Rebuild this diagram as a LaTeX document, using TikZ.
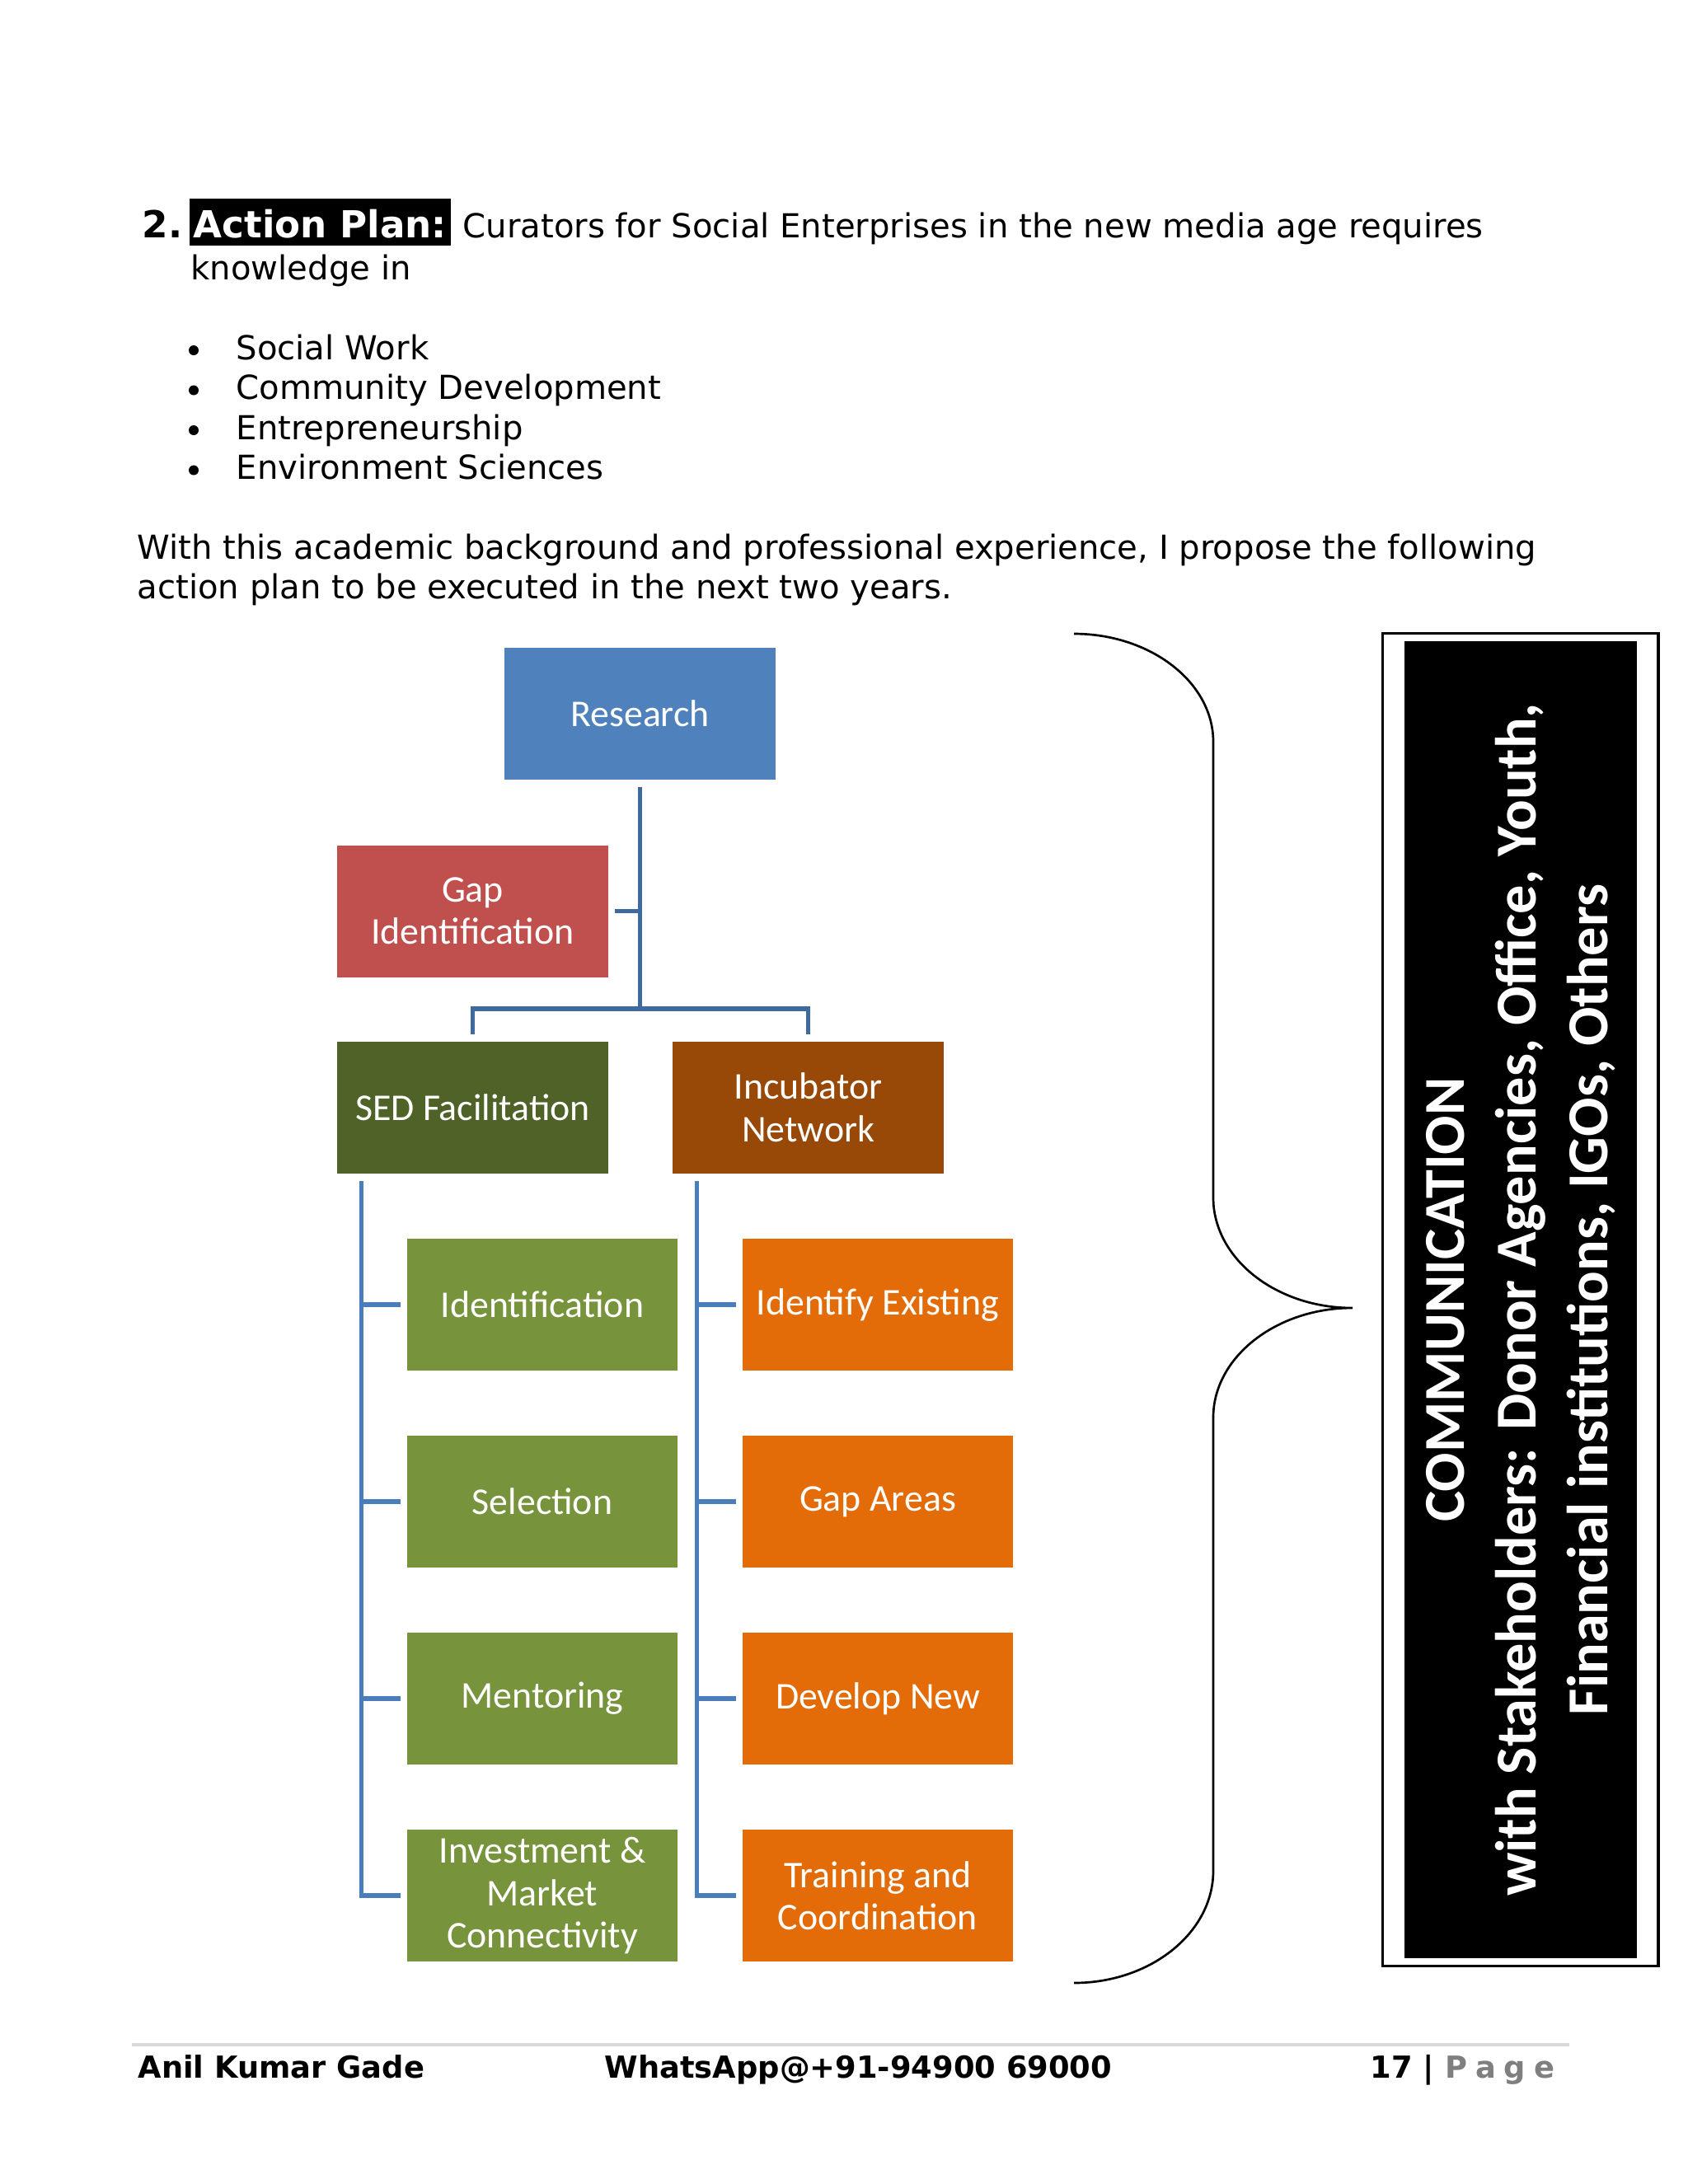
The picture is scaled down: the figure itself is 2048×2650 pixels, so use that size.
\documentclass[tikz,border=0pt]{standalone}
\usepackage{fontspec}
\setmainfont{DejaVu Sans}
\newfontfamily\carlito{Carlito}
\usetikzlibrary{positioning,calc}

\definecolor{resblue}{HTML}{4F81BD}
\definecolor{gapred}{HTML}{C0504D}
\definecolor{sedolive}{HTML}{4F6228}
\definecolor{incbrown}{HTML}{984807}
\definecolor{leafgreen}{HTML}{77933C}
\definecolor{leaforange}{HTML}{E36C09}
\definecolor{trunkblue}{HTML}{3E6A9E}
\definecolor{railblue}{HTML}{4A7EBB}
\definecolor{pagegray}{HTML}{7F7F7F}
\definecolor{rulegray}{HTML}{D9D9D9}

\tikzset{
  txt/.style={anchor=base west,inner sep=0pt},
  head/.style={font=\bfseries\fontsize{13.5}{16}\selectfont},
  foot/.style={font=\bfseries\fontsize{11}{13}\selectfont},
  box/.style={minimum width=98.3pt,minimum height=47.8pt,inner sep=1pt,align=center,text=white,font=\carlito\fontsize{13.7}{15.4}\selectfont},
  trunk/.style={draw=trunkblue,line width=1.6pt},
  rail/.style={draw=railblue,line width=1.6pt},
}

\begin{document}
\begin{tikzpicture}[x=0.29883pt,y=-0.29883pt,font=\fontsize{12}{14.6}\selectfont]
\useasboundingbox (0,0) rectangle (2048,2650);
\fill[white] (0,0) rectangle (2048,2650);

% heading and list
\node[txt,head] (num) at (172,288) {2.};
\node[head,anchor=base west,fill=black,text=white,inner xsep=1.5pt,inner ysep=0pt,text height=14pt,text depth=3pt] (ap) at (229,288) {Action Plan:};
\node[txt] (cur) at (561,288) {Curators for Social Enterprises in the new media age requires};
\node[txt] (know) at (231,339) {knowledge in};
\foreach \topic [count=\n] in {Social Work,Community Development,Entrepreneurship,Environment Sciences}
  {
    \fill (235,{425+48.5*(\n-1)}) circle (6);
    \node[txt] (B\n) at (286,{436+48.5*(\n-1)}) {\topic};
  }
\node[txt] (with) at (166,678) {With this academic background and professional experience, I propose the following};
\node[txt] (plan) at (166,726) {action plan to be executed in the next two years.};

% chart
\node[box,fill=resblue] (res) at (776.5,866) {Research};
\node[box,fill=gapred] (gap) at (573.5,1105.5) {Gap\\Identification};
\node[box,fill=sedolive] (sed) at (573.5,1343.5) {SED Facilitation};
\node[box,fill=incbrown] (inc) at (980.5,1343.5) {Incubator\\Network};
\foreach \lbl [count=\n] in {Identification,Selection,Mentoring,{Investment \&\\Market\\Connectivity}}
  \node[box,fill=leafgreen] (G\n) at (658,{1583+239*(\n-1)}) {\lbl};
\foreach \lbl [count=\n] in {Identify Existing,Gap Areas,Develop New,{Training and\\Coordination}}
  \node[box,fill=leaforange] (O\n) at (1065,{1583+239*(\n-1)}) {\lbl};

\coordinate (fork) at (776.5,1224);
\draw[trunk] ($(res.south)+(0,8)$) -- (fork);
\draw[trunk] ($(gap.east)+(7,0)$) -- (gap.east -| fork);
\draw[trunk] ($(sed.north)+(0,-8)$) |- (fork) -| ($(inc.north)+(0,-8)$);

\draw[rail] ($(sed.south west)+(30,9)$) |- ($(G4.west)+(-7,0)$);
\draw[rail] ($(inc.south west)+(30,9)$) |- ($(O4.west)+(-7,0)$);
\foreach \n in {1,2,3}
  {
    \draw[rail] ($(G\n.west)+(-54,0)$) -- ($(G\n.west)+(-7,0)$);
    \draw[rail] ($(O\n.west)+(-54,0)$) -- ($(O\n.west)+(-7,0)$);
  }

% brace and communication box
\draw[line width=0.8pt] (1303,769) .. controls (1396,769) and (1472,828) .. (1472,900) -- (1472,1453)
  .. controls (1472,1527) and (1548,1587) .. (1641,1587)
  .. controls (1548,1587) and (1472,1647) .. (1472,1720) -- (1472,2270)
  .. controls (1472,2345) and (1396,2406) .. (1303,2406);
\node[draw,line width=0.9pt,minimum width=100.1pt,minimum height=483.2pt,inner sep=0pt] (frame) at (1844.5,1576.5) {};
\node[fill=black,rotate=90,minimum width=477.5pt,minimum height=84.3pt,align=center,text=white,font=\carlito\bfseries\fontsize{21}{26}\selectfont] (comm) at (1845,1577) {COMMUNICATION\\with Stakeholders: Donor Agencies, Office, Youth,\\Financial institutions, IGOs, Others};

% footer
\draw[rulegray,line width=1pt] (160,2481) -- (1904,2481);
\node[txt,foot] (author) at (167,2521) {Anil Kumar Gade};
\node[txt,foot] (phone) at (733,2521) {WhatsApp@+91-94900 69000};
\node[foot,anchor=base east,inner sep=0pt] (pg) at (1887,2521) {17 | \textcolor{pagegray}{P\kern3pt a\kern3pt g\kern3pt e}};
\end{tikzpicture}
\end{document}
